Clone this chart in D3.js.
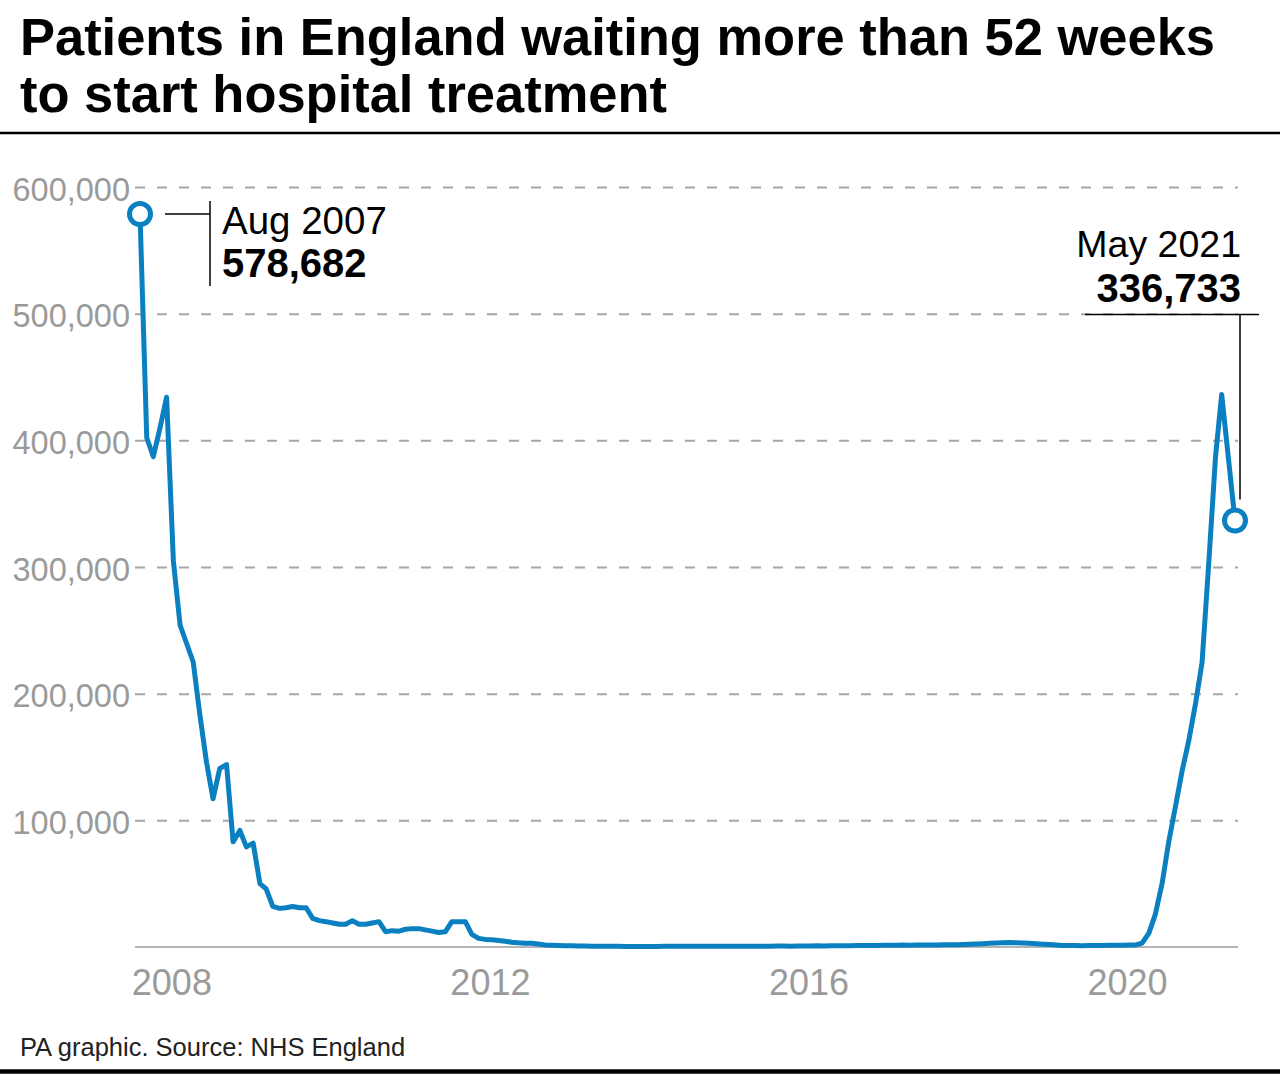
<!DOCTYPE html>
<html>
<head>
<meta charset="utf-8">
<script src="https://cdn.jsdelivr.net/npm/d3@7"></script>
<style>
  body { margin: 0; background: #fff; }
  svg { display: block; }
  text { font-family: "Liberation Sans", Arial, sans-serif; }
</style>
</head>
<body>
<svg id="chart"></svg>
<script>
// monthly counts of patients waiting 52+ weeks, first month is Aug 2007
const firstMonth = new Date(2007, 7, 1);
const waiting2007 = [578682, 402000, 387000, 410000, 434000];
const waiting2008 = [305000, 254000, 240000, 225000, 184000, 146000, 117000, 141000, 144000, 83000, 92000, 79000];
const waiting2009 = [82000, 50000, 46000, 32000, 30500, 31000, 32000, 31000, 31000, 22600, 20800, 20000];
const waiting2010 = [19000, 18000, 18000, 20800, 18000, 18000, 19000, 20000, 12000, 12900, 12500, 14000];
const waiting2011 = [14500, 14500, 13500, 12500, 11500, 12000, 20000, 20000, 20000, 10000, 6800, 6000];
const waiting2012 = [5800, 5200, 4600, 3800, 3300, 3000, 2900, 2300, 1600, 1300, 1100, 1000];
const waiting2013 = [900, 800, 700, 600, 600, 500, 500, 500, 450, 450, 400, 400];
const waiting2014 = [450, 400, 500, 500, 550, 500, 600, 550, 550, 500, 500, 550];
const waiting2015 = [500, 550, 550, 600, 650, 600, 650, 700, 700, 650, 750, 750];
const waiting2016 = [800, 900, 850, 950, 1000, 1050, 1000, 1100, 1150, 1100, 1200, 1300];
const waiting2017 = [1300, 1400, 1500, 1450, 1550, 1600, 1550, 1650, 1700, 1800, 1750, 1900];
const waiting2018 = [2100, 2400, 2650, 2900, 3100, 3300, 3500, 3400, 3200, 2900, 2500, 2200];
const waiting2019 = [1900, 1600, 1200, 1150, 1100, 1050, 1100, 1150, 1200, 1300, 1350, 1400];
const waiting2020 = [1600, 1600, 3100, 11000, 26000, 50500, 83000, 111000, 139500, 162900, 192200, 224700];
const waiting2021 = [304000, 387900, 436100, 385500, 336733];

const yTicks = [100000, 200000, 300000, 400000, 500000, 600000];
const xTickYears = [2008, 2012, 2016, 2020];
const titleLines = ["Patients in England waiting more than 52 weeks", "to start hospital treatment"];
const sourceText = "PA graphic. Source: NHS England";

const width = 1280, height = 1080;
const blue = "#0a80c0";

const waiting = [].concat(waiting2007, waiting2008, waiting2009, waiting2010, waiting2011,
  waiting2012, waiting2013, waiting2014, waiting2015, waiting2016, waiting2017,
  waiting2018, waiting2019, waiting2020, waiting2021);
const data = waiting.map((v, i) => ({ date: d3.timeMonth.offset(firstMonth, i), value: v }));

const svg = d3.select("#chart").attr("width", width).attr("height", height);

// title
svg.selectAll(".title")
  .data(titleLines)
  .enter().append("text")
  .attr("class", "title")
  .attr("x", 20)
  .attr("y", (d, i) => 55 + i * 57)
  .attr("font-size", 51)
  .attr("font-weight", "bold")
  .attr("fill", "#000")
  .attr("textLength", (d, i) => i === 0 ? 1195 : 647)
  .attr("lengthAdjust", "spacingAndGlyphs")
  .text(d => d);

svg.append("line")
  .attr("x1", 0).attr("x2", width)
  .attr("y1", 133).attr("y2", 133)
  .attr("stroke", "#000").attr("stroke-width", 2.5);

// scales
const x = d3.scaleTime()
  .domain(d3.extent(data, d => d.date))
  .range([140, 1235]);
const y = d3.scaleLinear()
  .domain([0, 600000])
  .range([947, 187]);

const gridLeft = 135, gridRight = 1238;

// y axis with dashed grid lines
const yAxis = d3.axisLeft(y)
  .tickValues(yTicks)
  .tickSize(-(gridRight - gridLeft))
  .tickPadding(5)
  .tickFormat(d3.format(","));
const gy = svg.append("g")
  .attr("transform", "translate(" + gridLeft + ",0)")
  .call(yAxis);
gy.select(".domain").remove();
gy.selectAll(".tick line")
  .attr("stroke", "#a6a6a6")
  .attr("stroke-width", 2)
  .attr("stroke-dasharray", "10,12");
gy.selectAll(".tick text")
  .attr("font-size", 32.5)
  .attr("fill", "#9a9a9a")
  .attr("dy", "0.4em")
  .style("font-family", "'Liberation Sans', Arial, sans-serif");

// baseline
svg.append("line")
  .attr("x1", gridLeft).attr("x2", gridRight)
  .attr("y1", y(0)).attr("y2", y(0))
  .attr("stroke", "#b5b5b5").attr("stroke-width", 2);

// x axis
const xAxis = d3.axisBottom(x)
  .tickValues(xTickYears.map(yr => new Date(yr, 0, 1)))
  .tickSize(0)
  .tickPadding(22)
  .tickFormat(d3.timeFormat("%Y"));
const gx = svg.append("g")
  .attr("transform", "translate(-2," + y(0) + ")")
  .call(xAxis);
gx.select(".domain").remove();
gx.selectAll(".tick text")
  .attr("font-size", 36)
  .attr("fill", "#9a9a9a")
  .style("font-family", "'Liberation Sans', Arial, sans-serif");

// the line
const line = d3.line()
  .x(d => x(d.date))
  .y(d => y(d.value));
svg.append("path")
  .datum(data)
  .attr("d", line)
  .attr("fill", "none")
  .attr("stroke", blue)
  .attr("stroke-width", 5)
  .attr("stroke-linejoin", "round");

// end markers
const first = data[0], last = data[data.length - 1];
svg.selectAll(".marker")
  .data([first, last])
  .enter().append("circle")
  .attr("class", "marker")
  .attr("cx", d => x(d.date))
  .attr("cy", d => y(d.value))
  .attr("r", 10.5)
  .attr("fill", "#fff")
  .attr("stroke", blue)
  .attr("stroke-width", 5);

const monthFmt = d3.timeFormat("%b %Y");
const numFmt = d3.format(",");

// first annotation
const fx = x(first.date), fy = y(first.value);
svg.append("line")
  .attr("x1", fx + 25).attr("x2", fx + 70)
  .attr("y1", fy).attr("y2", fy)
  .attr("stroke", "#000").attr("stroke-width", 1.5);
svg.append("line")
  .attr("x1", fx + 70).attr("x2", fx + 70)
  .attr("y1", fy - 13).attr("y2", fy + 72)
  .attr("stroke", "#000").attr("stroke-width", 1.5);
svg.append("text")
  .attr("x", fx + 82).attr("y", fy + 20)
  .attr("font-size", 38.5).attr("fill", "#000")
  .text(monthFmt(first.date));
svg.append("text")
  .attr("x", fx + 82).attr("y", fy + 63)
  .attr("font-size", 40).attr("font-weight", "bold").attr("fill", "#000")
  .text(numFmt(first.value));

// last annotation
const lx = x(last.date), ly = y(last.value);
svg.append("line")
  .attr("x1", 1085).attr("x2", 1259)
  .attr("y1", 314.5).attr("y2", 314.5)
  .attr("stroke", "#000").attr("stroke-width", 1.5);
svg.append("line")
  .attr("x1", lx + 5).attr("x2", lx + 5)
  .attr("y1", 314.5).attr("y2", ly - 21)
  .attr("stroke", "#000").attr("stroke-width", 1.5);
svg.append("text")
  .attr("x", lx + 6).attr("y", 257)
  .attr("text-anchor", "end")
  .attr("font-size", 37.5).attr("fill", "#000")
  .text(monthFmt(last.date));
svg.append("text")
  .attr("x", lx + 6).attr("y", 302)
  .attr("text-anchor", "end")
  .attr("font-size", 40).attr("font-weight", "bold").attr("fill", "#000")
  .text(numFmt(last.value));

// footer
svg.append("text")
  .attr("x", 20).attr("y", 1056)
  .attr("font-size", 25.5).attr("fill", "#222")
  .text(sourceText);
svg.append("line")
  .attr("x1", 0).attr("x2", width)
  .attr("y1", 1071.5).attr("y2", 1071.5)
  .attr("stroke", "#000").attr("stroke-width", 4.5);
</script>
</body>
</html>
